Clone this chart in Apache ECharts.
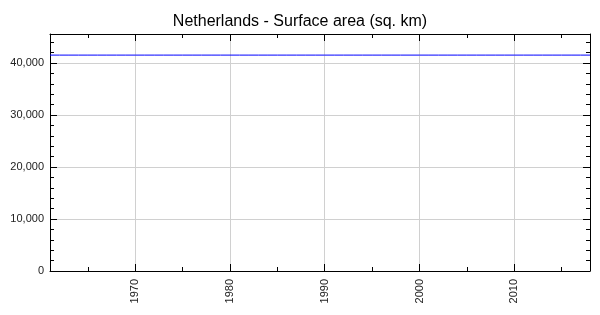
<!DOCTYPE html>
<html><head><meta charset="utf-8">
<script src="https://cdn.jsdelivr.net/npm/echarts@6/dist/echarts.min.js"></script>
<style>html,body{margin:0;padding:0;background:#fff}#c{width:600px;height:315px}</style>
</head><body><div id="c"></div>
<script>
const years = [];
for (let y = 1961; y <= 2018; y++) years.push(y);
const surfaceArea = [41540,41540,41540,41540,41540,41540,41540,41540,41540,41540,
41540,41540,41540,41540,41540,41540,41540,41540,41540,41540,
41540,41540,41540,41540,41540,41540,41540,41540,41540,41540,
41540,41540,41540,41540,41540,41540,41540,41540,41540,41540,
41540,41540,41540,41540,41540,41540,41540,41540,41540,41540,
41540,41540,41540,41540,41540,41540,41540,41540];
const majorYears = [1970, 1980, 1990, 2000, 2010];
const minorYears = [1965, 1975, 1985, 1995, 2005, 2015];
const titleText = 'Netherlands - Surface area (sq. km)';

const font = 'Liberation Sans, Arial, sans-serif';
const xBase = {type:'value', min:1961, max:2018, gridIndex:0};
const chart = echarts.init(document.getElementById('c'), null, {renderer:'canvas'});
chart.setOption({
  animation:false,
  backgroundColor:'#fff',
  title:{text:titleText, left:'center', top:9, textStyle:{fontFamily:font, fontSize:16, fontWeight:'normal', color:'#000'}},
  grid:{left:50, right:10, top:34, bottom:44},
  xAxis:[
    Object.assign({}, xBase, {position:'bottom',
      axisLine:{lineStyle:{color:'#000', width:1}},
      axisTick:{inside:true, length:7, customValues:majorYears, lineStyle:{color:'#000'}},
      axisLabel:{customValues:majorYears, rotate:90, margin:8, fontFamily:font, fontSize:11, color:'#222',
        formatter:v=>String(v)},
      splitLine:{show:true, lineStyle:{color:'#d0d0d0', width:1}}}),
    Object.assign({}, xBase, {position:'bottom',
      axisLine:{show:false},
      axisTick:{inside:true, length:4, customValues:minorYears, lineStyle:{color:'#000'}},
      axisLabel:{show:false}, splitLine:{show:false}}),
    Object.assign({}, xBase, {position:'top',
      axisLine:{lineStyle:{color:'#000'}},
      axisTick:{inside:true, length:7, customValues:majorYears, lineStyle:{color:'#000'}},
      axisLabel:{show:false}, splitLine:{show:false}}),
    Object.assign({}, xBase, {position:'top',
      axisLine:{show:false},
      axisTick:{inside:true, length:4, customValues:minorYears, lineStyle:{color:'#000'}},
      axisLabel:{show:false}, splitLine:{show:false}})
  ],
  yAxis:[
    {type:'value', min:0, max:45600, interval:10000, position:'left',
      axisLine:{show:true, lineStyle:{color:'#000'}},
      axisTick:{show:true, inside:true, length:7, lineStyle:{color:'#000'}},
      minorTick:{show:true, splitNumber:5, length:4, lineStyle:{color:'#000'}},
      axisLabel:{margin:6, fontFamily:font, fontSize:11, color:'#222', showMaxLabel:false,
        formatter:v=>v.toLocaleString('en-US')},
      splitLine:{show:true, lineStyle:{color:'#d0d0d0', width:1}}},
    {type:'value', min:0, max:45600, interval:10000, position:'right',
      axisLine:{show:true, lineStyle:{color:'#000'}},
      axisTick:{show:true, inside:true, length:7, lineStyle:{color:'#000'}},
      minorTick:{show:true, splitNumber:5, length:4, lineStyle:{color:'#000'}},
      axisLabel:{show:false}, splitLine:{show:false}}
  ],
  series:[{type:'line', xAxisIndex:0, yAxisIndex:0, showSymbol:false,
    data:years.map((y,i)=>[y, surfaceArea[i]]),
    lineStyle:{color:'#0000ff', width:1}, itemStyle:{color:'#0000ff'}}]
});
</script></body></html>
